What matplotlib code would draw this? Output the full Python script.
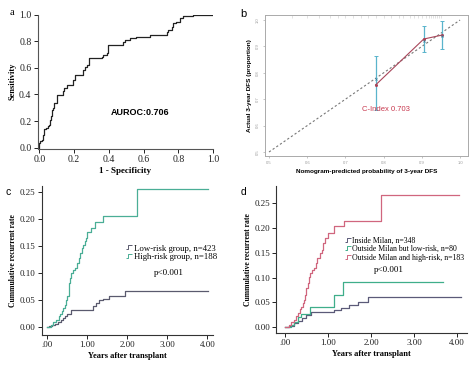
import matplotlib
matplotlib.use("Agg")
import matplotlib.pyplot as plt
from matplotlib.path import Path
from matplotlib.lines import Line2D

# ---- panel a: ROC curve ----
roc_fpr = [0.0, 0.004, 0.013, 0.019, 0.029, 0.036, 0.052, 0.056, 0.061, 0.065, 0.071,
           0.075, 0.080, 0.086, 0.096, 0.103, 0.115, 0.134, 0.142, 0.157, 0.167, 0.192,
           0.205, 0.218, 0.253, 0.262, 0.276, 0.287, 0.295, 0.358, 0.368, 0.387, 0.397,
           0.416, 0.483, 0.492, 0.521, 0.559, 0.636, 0.732, 0.741, 0.761, 0.770, 0.789,
           0.808, 0.824, 0.885, 0.895, 1.0]
roc_tpr = [0.0, 0.035, 0.048, 0.060, 0.098, 0.140, 0.148, 0.165, 0.173, 0.210, 0.235,
           0.260, 0.285, 0.298, 0.335, 0.335, 0.393, 0.393, 0.423, 0.448, 0.473, 0.473,
           0.510, 0.548, 0.548, 0.585, 0.610, 0.623, 0.673, 0.673, 0.685, 0.698, 0.710,
           0.773, 0.773, 0.798, 0.810, 0.823, 0.835, 0.848, 0.873, 0.885, 0.905, 0.935,
           0.948, 0.973, 0.990, 1.0, 1.0]
roc_ticks = [0.0, 0.2, 0.4, 0.6, 0.8, 1.0]
auroc_text = "AUROC:0.706"

# ---- panel b: calibration ----
cal_pred = [0.779, 0.905, 0.953]
cal_obs = [0.754, 0.928, 0.943]
cal_mid = [0.776, 0.920, 0.940]
cal_low = [0.660, 0.879, 0.890]
cal_high = [0.864, 0.977, 0.996]
cal_rug = [0.56, 0.60, 0.63, 0.66, 0.68, 0.70, 0.72, 0.74, 0.76, 0.78, 0.80, 0.82,
           0.84, 0.85, 0.87, 0.88, 0.89, 0.90, 0.91, 0.92, 0.925, 0.93, 0.935, 0.94,
           0.945, 0.95]
cal_ticks = [0.5, 0.6, 0.7, 0.8, 0.9, 1.0]
cindex_text = "C-Index 0.703"

# ---- panel c: risk groups ----
c_low_t = [0.0, 0.05, 0.12, 0.2, 0.27, 0.33, 0.38, 0.43, 0.5, 0.6, 1.15, 1.22, 1.3,
           1.4, 1.55, 1.93, 4.02]
c_low_r = [0.0, 0.002, 0.004, 0.007, 0.010, 0.013, 0.017, 0.020, 0.025, 0.032, 0.040,
           0.045, 0.050, 0.052, 0.057, 0.067, 0.067]
c_high_t = [0.0, 0.08, 0.15, 0.22, 0.28, 0.32, 0.36, 0.40, 0.44, 0.47, 0.50, 0.53, 0.55,
            0.57, 0.59, 0.63, 0.69, 0.75, 0.80, 0.82, 0.86, 0.90, 0.94, 0.97, 1.0,
            1.08, 1.2, 1.4, 2.25, 4.02]
c_high_r = [0.0, 0.005, 0.009, 0.014, 0.020, 0.025, 0.030, 0.036, 0.042, 0.051, 0.057,
            0.069, 0.082, 0.091, 0.100, 0.105, 0.109, 0.119, 0.128, 0.137, 0.146,
            0.152, 0.159, 0.165, 0.175, 0.183, 0.194, 0.206, 0.256, 0.256]
c_labels = ["Low-risk group, n=423", "High-risk group, n=188"]

# ---- panel d: Milan groups ----
d_in_t = [0.0, 0.1, 0.2, 0.3, 0.4, 0.5, 0.6, 1.15, 1.3, 1.5, 1.7, 1.92, 4.1]
d_in_r = [0.0, 0.003, 0.008, 0.013, 0.018, 0.024, 0.030, 0.035, 0.039, 0.044, 0.050,
          0.062, 0.062]
d_low_t = [0.0, 0.15, 0.2, 0.3, 0.38, 0.58, 1.13, 1.36, 3.68]
d_low_r = [0.0, 0.004, 0.010, 0.020, 0.027, 0.040, 0.066, 0.092, 0.092]
d_high_t = [0.0, 0.10, 0.15, 0.21, 0.25, 0.31, 0.35, 0.38, 0.41, 0.44, 0.46, 0.50,
            0.54, 0.56, 0.59, 0.64, 0.67, 0.72, 0.75, 0.81, 0.85, 0.89, 0.92, 1.0,
            1.15, 1.38, 2.23, 4.05]
d_high_r = [0.0, 0.005, 0.010, 0.015, 0.022, 0.028, 0.036, 0.041, 0.049, 0.056, 0.066,
            0.079, 0.089, 0.102, 0.109, 0.115, 0.119, 0.129, 0.139, 0.150, 0.156,
            0.170, 0.180, 0.190, 0.203, 0.213, 0.266, 0.266]
d_labels = ["Inside Milan, n=348", "Outside Milan but low-risk, n=80",
            "Outside Milan and high-risk, n=183"]

km_ticks = [0, 1, 2, 3, 4]
km_ticklabels = [".00", "1.00", "2.00", "3.00", "4.00"]
rate_ticks = [0.0, 0.05, 0.10, 0.15, 0.20, 0.25]
p_text = "p<0.001"

SERIF = "Liberation Serif"
SANS = "Liberation Sans"

# legend marker like SPSS small step glyph
step_mark = Path([(-1, -0.6), (-0.3, -0.6), (-0.3, 0.6), (1, 0.6)],
                 [Path.MOVETO, Path.LINETO, Path.LINETO, Path.LINETO])


def km_style(ax, xlim, ylim):
    ax.set_xlim(*xlim)
    ax.set_ylim(*ylim)
    for s in ["top", "right"]:
        ax.spines[s].set_visible(False)
    for s in ["left", "bottom"]:
        ax.spines[s].set_linewidth(0.8)
        ax.spines[s].set_color("#333333")
    ax.set_xticks(km_ticks)
    ax.set_xticklabels(km_ticklabels, fontfamily=SERIF, fontsize=6.5)
    ax.set_yticks(rate_ticks)
    ax.set_yticklabels(["%.2f" % v for v in rate_ticks], fontfamily=SERIF, fontsize=6.5)
    ax.tick_params(direction="out", length=3, width=0.7, pad=1.5, colors="#222222")
    ax.set_xlabel("Years after transplant", fontfamily=SERIF, fontweight="bold",
                  fontsize=6, labelpad=2)
    ax.set_ylabel("Cummulative recurrent rate", fontfamily=SERIF, fontweight="bold",
                  fontsize=5.5, labelpad=2)


fig = plt.figure(figsize=(4.74, 3.66), dpi=100)

# ---------- a ----------
ax = fig.add_axes([0.0795, 0.593, 0.370, 0.367])
ax.step(roc_fpr, roc_tpr, where="pre", color="#222222", lw=0.9)
ax.set_xlim(-0.01, 1.0)
ax.set_ylim(-0.01, 1.0)
for s in ["top", "right"]:
    ax.spines[s].set_visible(False)
for s in ["left", "bottom"]:
    ax.spines[s].set_color("#555555")
    ax.spines[s].set_linewidth(0.8)
ax.set_xticks(roc_ticks)
ax.set_yticks(roc_ticks)
ax.set_xticklabels(["%.1f" % v for v in roc_ticks], fontfamily=SERIF, fontsize=7)
ax.set_yticklabels(["%.1f" % v for v in roc_ticks], fontfamily=SERIF, fontsize=7)
ax.tick_params(direction="out", length=3, width=0.7, pad=1.5, colors="#222222")
ax.set_xlabel("1 - Specificity", fontfamily=SERIF, fontweight="bold", fontsize=6.5,
              labelpad=2)
ax.set_ylabel("Sensitivity", fontfamily=SERIF, fontweight="bold", fontsize=6,
              labelpad=2)
ax.text(0.58, 0.265, auroc_text, fontfamily=SANS, fontweight="bold", fontsize=6.5,
        ha="center", va="center")
fig.text(0.021, 0.978, "a", fontfamily=SERIF, fontsize=7.5, va="top")

# ---------- b ----------
ax = fig.add_axes([0.5584, 0.5746, 0.4283, 0.3844])
ax.set_xlim(0.4887, 1.02)
ax.set_ylim(0.486, 1.019)
ax.plot([0.5, 1.0], [0.5, 1.0], ls=(0, (2, 2)), color="#777777", lw=0.8)
ax.vlines(cal_rug, 1.008, 1.019, color="#cccccc", lw=0.4)
ax.errorbar(cal_pred, cal_mid, yerr=[[m - l for m, l in zip(cal_mid, cal_low)],
                                     [h - m for m, h in zip(cal_mid, cal_high)]],
            fmt="none", ecolor="#5ab4cc", elinewidth=0.9, capsize=1.5, capthick=0.7)
ax.plot(cal_pred, cal_obs, color="#a8465a", lw=0.8, marker="o", ms=1.2)
ax.plot(cal_pred, cal_mid, ls="none", marker="x", ms=1.5, mew=0.5, color="#3c7f99")
for s in ax.spines.values():
    s.set_color("#aaaaaa")
    s.set_linewidth(0.7)
ax.set_xticks(cal_ticks)
ax.set_yticks(cal_ticks)
ax.set_xticklabels(["%.1f" % v for v in cal_ticks], fontfamily=SANS, fontsize=3,
                   color="#888888")
ax.set_yticklabels(["%.1f" % v for v in cal_ticks], fontfamily=SANS, fontsize=3,
                   color="#888888", rotation=90, va="center")
ax.tick_params(direction="out", length=1.5, width=0.4, pad=2, colors="#999999")
ax.set_xlabel("Nomogram-predicted probability of 3-year DFS", fontfamily=SANS,
              fontweight="bold", fontsize=4.6, labelpad=3)
ax.set_ylabel("Actual 3-year DFS (proportion)", fontfamily=SANS, fontweight="bold",
              fontsize=4.6, labelpad=3)
ax.text(0.743, 0.661, cindex_text, fontfamily=SANS, fontsize=5.5, color="#c8384e",
        ha="left", va="center")
fig.text(0.507, 0.975, "b", fontfamily=SANS, fontsize=8, va="top")

# ---------- c ----------
ax = fig.add_axes([0.088, 0.0855, 0.362, 0.406])
c_col = ["#5a5a6e", "#4aae96"]
ax.step(c_low_t, c_low_r, where="post", color=c_col[0], lw=0.9)
ax.step(c_high_t, c_high_r, where="post", color=c_col[1], lw=0.9)
km_style(ax, (-0.14, 4.15), (-0.0136, 0.2605))
handles = [Line2D([], [], ls="none", marker=step_mark, ms=5, mew=0.7, mfc="none",
                  mec=c) for c in c_col]
ax.legend(handles, c_labels, loc="upper left", bbox_to_anchor=(1.85, 0.161),
          bbox_transform=ax.transData, frameon=False, borderpad=0, handlelength=0.8,
          handletextpad=0.1, labelspacing=0.05, prop={"family": SERIF, "size": 6.3})
ax.text(3.05, 0.101, p_text, fontfamily=SERIF, fontsize=6.5, ha="center", va="center")
fig.text(0.012, 0.488, "c", fontfamily=SANS, fontsize=7.5, va="top")

# ---------- d ----------
ax = fig.add_axes([0.583, 0.090, 0.402, 0.401])
d_col = ["#5b5a78", "#3fae8a", "#d0667e"]
ax.step(d_in_t, d_in_r, where="post", color=d_col[0], lw=0.9)
ax.step(d_low_t, d_low_r, where="post", color=d_col[1], lw=0.9)
ax.step(d_high_t, d_high_r, where="post", color=d_col[2], lw=0.9)
km_style(ax, (-0.2, 4.23), (-0.0115, 0.2837))
handles = [Line2D([], [], ls="none", marker=step_mark, ms=5, mew=0.7, mfc="none",
                  mec=c) for c in d_col]
ax.legend(handles, d_labels, loc="upper left", bbox_to_anchor=(1.3, 0.19),
          bbox_transform=ax.transData, frameon=False, borderpad=0, handlelength=0.8,
          handletextpad=0.1, labelspacing=0.05, prop={"family": SERIF, "size": 5.6})
ax.text(2.42, 0.115, p_text, fontfamily=SERIF, fontsize=6.5, ha="center", va="center")
fig.text(0.508, 0.488, "d", fontfamily=SANS, fontsize=7.5, va="top")

fig.savefig("out.png", dpi=100, facecolor="white")
